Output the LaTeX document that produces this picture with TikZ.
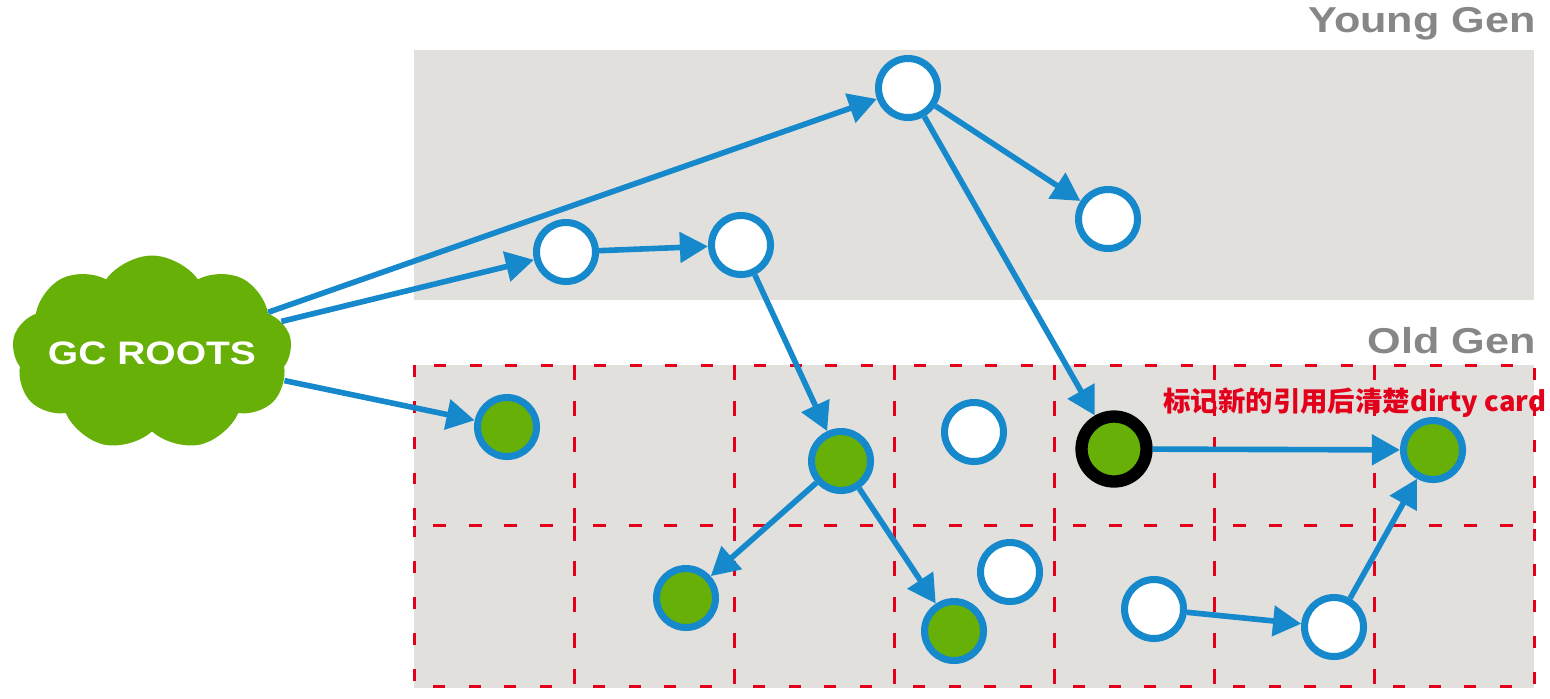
\documentclass[tikz,border=0pt]{standalone}
\usepackage{fontspec}
\setmainfont{Liberation Sans}
\newfontfamily\widefont{Liberation Sans}[FakeStretch=1.2]
\newfontfamily\cjk{Noto Sans CJK SC}
\usepackage{tikz}
\usetikzlibrary{
    arrows.meta,
    shapes.symbols
}
\definecolor{HeapGray}{RGB}{225,224,221}
\definecolor{RefBlue}{RGB}{21,137,203}
\definecolor{RootGreen}{RGB}{102,176,8}
\definecolor{CardRed}{RGB}{227,0,27}
\definecolor{GenGray}{RGB}{135,135,135}

\tikzset{
    objnode/.style={
        circle,
        draw=RefBlue,
        fill=white,
        line width=4pt,
        minimum size=1.18cm,
        inner sep=0pt
    },
    livenode/.style={
        objnode,
        fill=RootGreen
    },
    dirtynode/.style={
        livenode,
        draw=black,
        line width=7pt,
        minimum size=1.3cm
    },
    refarrow/.style={
        -{Triangle[length=16pt,width=17pt]},
        draw=RefBlue,
        line width=3.2pt
    },
    celldash/.style={
        draw=CardRed,
        line width=1.7pt,
        dash pattern=on 6.8pt off 13.6pt
    },
    genlabel/.style={
        anchor=east,
        text=GenGray,
        font=\widefont\bfseries\fontsize{20.5}{24}\selectfont,
        inner sep=0pt
    },
    rootlabel/.style={
        text=white,
        font=\widefont\bfseries\fontsize{18.5}{21}\selectfont
    },
    notelabel/.style={
        anchor=west,
        font=\cjk\bfseries\fontsize{15.6}{18}\selectfont,
        inner sep=0pt
    }
}

\begin{document}
\begin{tikzpicture}[x=0.02cm,y=-0.02cm]
%
    \useasboundingbox (0,0) rectangle (1550,698);
%
    % Heap regions
%
    \fill[HeapGray] (414,50) rectangle (1534,300);
    \fill[HeapGray] (414,365) rectangle (1534,688);
%
    \foreach \col in {0,...,6}{
        \foreach \row in {0,1}{
            \draw[celldash]
            (414+160*\col,365+160.5*\row)
            rectangle
            ++(160,160.5);
        }
    }
%
    \node[genlabel] (young-label) at (1536,24) {Young Gen};
    \node[genlabel] (old-label) at (1536,341) {Old Gen};
%
    % Roots
%
    \node[
        cloud,
        cloud puffs=9,
        cloud puff arc=110,
        cloud ignores aspect,
        fill=RootGreen,
        minimum width=5.6cm,
        minimum height=3.9cm,
        inner sep=0pt,
        label={[rootlabel]center:GC ROOTS}
    ]
    (roots) at (152,353) {};
%
    % Young generation objects
%
    \node[objnode] (y1) at (908,88) {};
    \node[objnode] (y2) at (1108,219) {};
    \node[objnode] (y3) at (566,252) {};
    \node[objnode] (y4) at (741,245) {};
%
    % Old generation objects
%
    \node[livenode] (o1) at (507,427) {};
    \node[livenode] (o2) at (841,461) {};
    \node[objnode] (o3) at (974,432) {};
    \node[dirtynode] (o4) at (1114,449) {};
    \node[livenode] (o5) at (1433,450) {};
    \node[livenode] (o6) at (686,598) {};
    \node[livenode] (o7) at (954,631) {};
    \node[objnode] (o8) at (1010,572) {};
    \node[objnode] (o9) at (1154,609) {};
    \node[objnode] (o10) at (1334,627) {};
%
    % References
%
    \draw[refarrow] (roots) -- (y1);
    \draw[refarrow] (roots) -- (y3);
    \draw[refarrow] (roots) -- (o1);
    \draw[refarrow] (y3) -- (y4);
    \draw[refarrow] (y1) -- (y2);
    \draw[refarrow] (y1) -- (o4);
    \draw[refarrow] (y4) -- (o2);
    \draw[refarrow] (o2) -- (o6);
    \draw[refarrow] (o2) -- (o7);
    \draw[refarrow] (o4) -- (o5);
    \draw[refarrow] (o9) -- (o10);
    \draw[refarrow] (o10) -- (o5);
%
    % Note
%
    \node[
        notelabel,
        text=CardRed
    ]
    (dirty-note) at (1163,403) {标记新的引用后清楚dirty card};
%
\end{tikzpicture}
\end{document}
